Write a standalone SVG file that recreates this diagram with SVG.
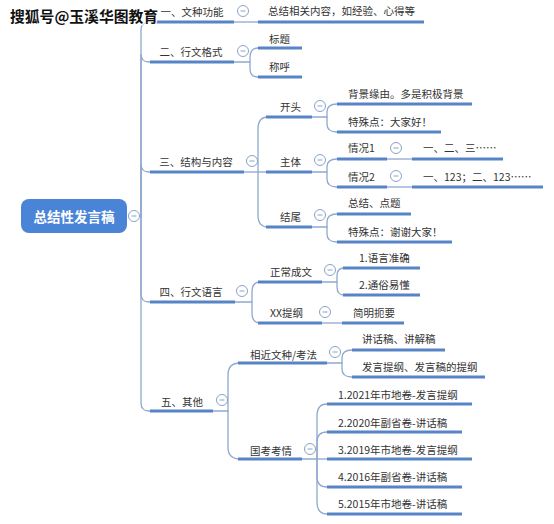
<svg xmlns="http://www.w3.org/2000/svg" width="554" height="524" viewBox="0 0 554 524">
<style>
.u{stroke:#5784c6;stroke-width:3;fill:none}
.c{stroke:#8ea8cf;stroke-width:1.3;fill:none}
.t{font-family:"Noto Sans CJK SC","Noto Sans",sans-serif;font-size:10.5px;fill:#333}
.k circle{fill:#fff;stroke:#8aa2c6;stroke-width:1}
.k line{stroke:#8aa2c6;stroke-width:1}
</style>
<defs>
<g id="km" class="k"><circle r="5.5"/><line x1="-2.5" y1="0" x2="2.5" y2="0"/></g>
</defs>
<rect width="554" height="524" fill="#fff"/>

<g id="connectors">
<path class="c" d="M139,216 H141 V30 Q141,22 149,22 H150"/>
<path class="c" d="M141,216 V54 Q141,62 149,62 H150"/>
<path class="c" d="M141,216 V164 Q141,172 149,172 H150"/>
<path class="c" d="M141,216 V294 Q141,302 149,302 H150"/>
<path class="c" d="M141,216 V403 Q141,411 149,411 H150"/>
<path class="c" d="M234,22 H258"/>
<path class="c" d="M234,62 H250 V58 Q250,48 258,48"/>
<path class="c" d="M250,62 V69 Q250,77 258,77"/>
<path class="c" d="M244,172 H266"/>
<path class="c" d="M258,172 V129 Q258,117 268,117"/>
<path class="c" d="M258,172 V215 Q258,227 268,227"/>
<path class="c" d="M312,117 H327 V112 Q327,104 337,104"/>
<path class="c" d="M327,117 V124 Q327,132 337,132"/>
<path class="c" d="M312,172 H327 V167 Q327,159 337,159"/>
<path class="c" d="M327,172 V179 Q327,187 337,187"/>
<path class="c" d="M387,159 H412"/>
<path class="c" d="M387,187 H412"/>
<path class="c" d="M312,227 H327 V222 Q327,214 337,214"/>
<path class="c" d="M327,227 V234 Q327,242 337,242"/>
<path class="c" d="M235,302 H252 V292 Q252,282 260,282"/>
<path class="c" d="M252,302 V313 Q252,323 260,323"/>
<path class="c" d="M322,282 H337 V276 Q337,268 344,268"/>
<path class="c" d="M337,282 V287 Q337,295 344,295"/>
<path class="c" d="M322,323 H342"/>
<path class="c" d="M213,411 H228 V375 Q228,363 240,363"/>
<path class="c" d="M228,411 V447 Q228,459 240,459"/>
<path class="c" d="M327,363 H342 V358 Q342,350 352,350"/>
<path class="c" d="M342,363 V369 Q342,377 352,377"/>
<path class="c" d="M302,459 H317 V416 Q317,404 327,404"/>
<path class="c" d="M317,459 V442 Q317,432 327,432"/>
<path class="c" d="M317,459 V477 Q317,487 327,487"/>
<path class="c" d="M317,459 V502 Q317,514 327,514"/>
<path class="c" d="M317,459 H327"/>
</g>

<g id="root">
<rect x="21" y="199" width="106" height="34" rx="8" fill="#4a84d6"/>
<text x="74" y="221.5" text-anchor="middle" font-family="'Noto Sans CJK SC',sans-serif" font-size="13.5" font-weight="bold" fill="#fff">总结性发言稿</text>
<use href="#km" x="134" y="216"/>
</g>

<g id="n1"><path class="u" d="M150,22 H234"/><text class="t" x="192" y="16" text-anchor="middle">一、文种功能</text><use href="#km" x="243" y="11"/></g>
<g id="n1a"><path class="u" d="M258,22 H424"/><text class="t" x="268" y="15">总结相关内容，如经验、心得等</text></g>

<g id="n2"><path class="u" d="M150,62 H234"/><text class="t" x="191" y="56" text-anchor="middle">二、行文格式</text><use href="#km" x="243" y="51"/></g>
<g id="n2a"><path class="u" d="M258,48 H302"/><text class="t" x="269" y="43">标题</text></g>
<g id="n2b"><path class="u" d="M258,77 H302"/><text class="t" x="269" y="71">称呼</text></g>

<g id="n3"><path class="u" d="M150,172 H244"/><text class="t" x="196" y="166" text-anchor="middle">三、结构与内容</text><use href="#km" x="252" y="161"/></g>
<g id="n3a"><path class="u" d="M266,117 H312"/><text class="t" x="280" y="111">开头</text><use href="#km" x="320" y="106"/></g>
<g id="n3a1"><path class="u" d="M337,104 H472"/><text class="t" x="348" y="98">背景缘由。多是积极背景</text></g>
<g id="n3a2"><path class="u" d="M337,132 H441"/><text class="t" x="348" y="126">特殊点：大家好！</text></g>
<g id="n3b"><path class="u" d="M266,172 H312"/><text class="t" x="280" y="166">主体</text><use href="#km" x="320" y="160"/></g>
<g id="n3b1"><path class="u" d="M337,159 H387"/><text class="t" x="348" y="152">情况1</text><use href="#km" x="396" y="148"/></g>
<g id="n3b1a"><path class="u" d="M412,159 H503"/><text class="t" x="423" y="152">一、二、三……</text></g>
<g id="n3b2"><path class="u" d="M337,187 H387"/><text class="t" x="348" y="181">情况2</text><use href="#km" x="396" y="176"/></g>
<g id="n3b2a"><path class="u" d="M412,187 H543"/><text class="t" x="423" y="181">一、123；二、123……</text></g>
<g id="n3c"><path class="u" d="M266,227 H312"/><text class="t" x="280" y="221">结尾</text><use href="#km" x="320" y="215"/></g>
<g id="n3c1"><path class="u" d="M337,214 H411"/><text class="t" x="348" y="207">总结、点题</text></g>
<g id="n3c2"><path class="u" d="M337,242 H452"/><text class="t" x="348" y="236">特殊点：谢谢大家！</text></g>

<g id="n4"><path class="u" d="M150,302 H235"/><text class="t" x="191" y="296" text-anchor="middle">四、行文语言</text><use href="#km" x="242" y="291"/></g>
<g id="n4a"><path class="u" d="M258,282 H322"/><text class="t" x="270" y="276">正常成文</text><use href="#km" x="330" y="270"/></g>
<g id="n4a1"><path class="u" d="M343,268 H420"/><text class="t" x="359" y="262">1.语言准确</text></g>
<g id="n4a2"><path class="u" d="M343,295 H420"/><text class="t" x="359" y="289">2.通俗易懂</text></g>
<g id="n4b"><path class="u" d="M258,323 H322"/><text class="t" x="270" y="317">XX提纲</text><use href="#km" x="325" y="312"/></g>
<g id="n4b1"><path class="u" d="M342,323 H404"/><text class="t" x="353" y="317">简明扼要</text></g>

<g id="n5"><path class="u" d="M150,411 H213"/><text class="t" x="182" y="406" text-anchor="middle">五、其他</text><use href="#km" x="222" y="400"/></g>
<g id="n5a"><path class="u" d="M238,363 H327"/><text class="t" x="250" y="359">相近文种/考法</text><use href="#km" x="335" y="352"/></g>
<g id="n5a1"><path class="u" d="M352,350 H445"/><text class="t" x="362" y="343">讲话稿、讲解稿</text></g>
<g id="n5a2"><path class="u" d="M352,377 H485"/><text class="t" x="362" y="371">发言提纲、发言稿的提纲</text></g>
<g id="n5b"><path class="u" d="M238,459 H302"/><text class="t" x="250" y="455">国考考情</text><use href="#km" x="310" y="449"/></g>
<g id="n5b1"><path class="u" d="M327,404 H472"/><text class="t" x="338" y="399">1.2021年市地卷-发言提纲</text></g>
<g id="n5b2"><path class="u" d="M327,432 H462"/><text class="t" x="338" y="427">2.2020年副省卷-讲话稿</text></g>
<g id="n5b3"><path class="u" d="M327,459 H472"/><text class="t" x="338" y="454">3.2019年市地卷-发言提纲</text></g>
<g id="n5b4"><path class="u" d="M327,487 H462"/><text class="t" x="338" y="481">4.2016年副省卷-讲话稿</text></g>
<g id="n5b5"><path class="u" d="M327,514 H462"/><text class="t" x="338" y="508">5.2015年市地卷-讲话稿</text></g>

<g id="watermark">
<text x="10" y="22" font-family="'Noto Sans CJK SC',sans-serif" font-size="14.8" font-weight="bold" fill="#111" stroke="#fff" stroke-width="2.5" paint-order="stroke">搜狐号@玉溪华图教育</text>
</g>
</svg>
